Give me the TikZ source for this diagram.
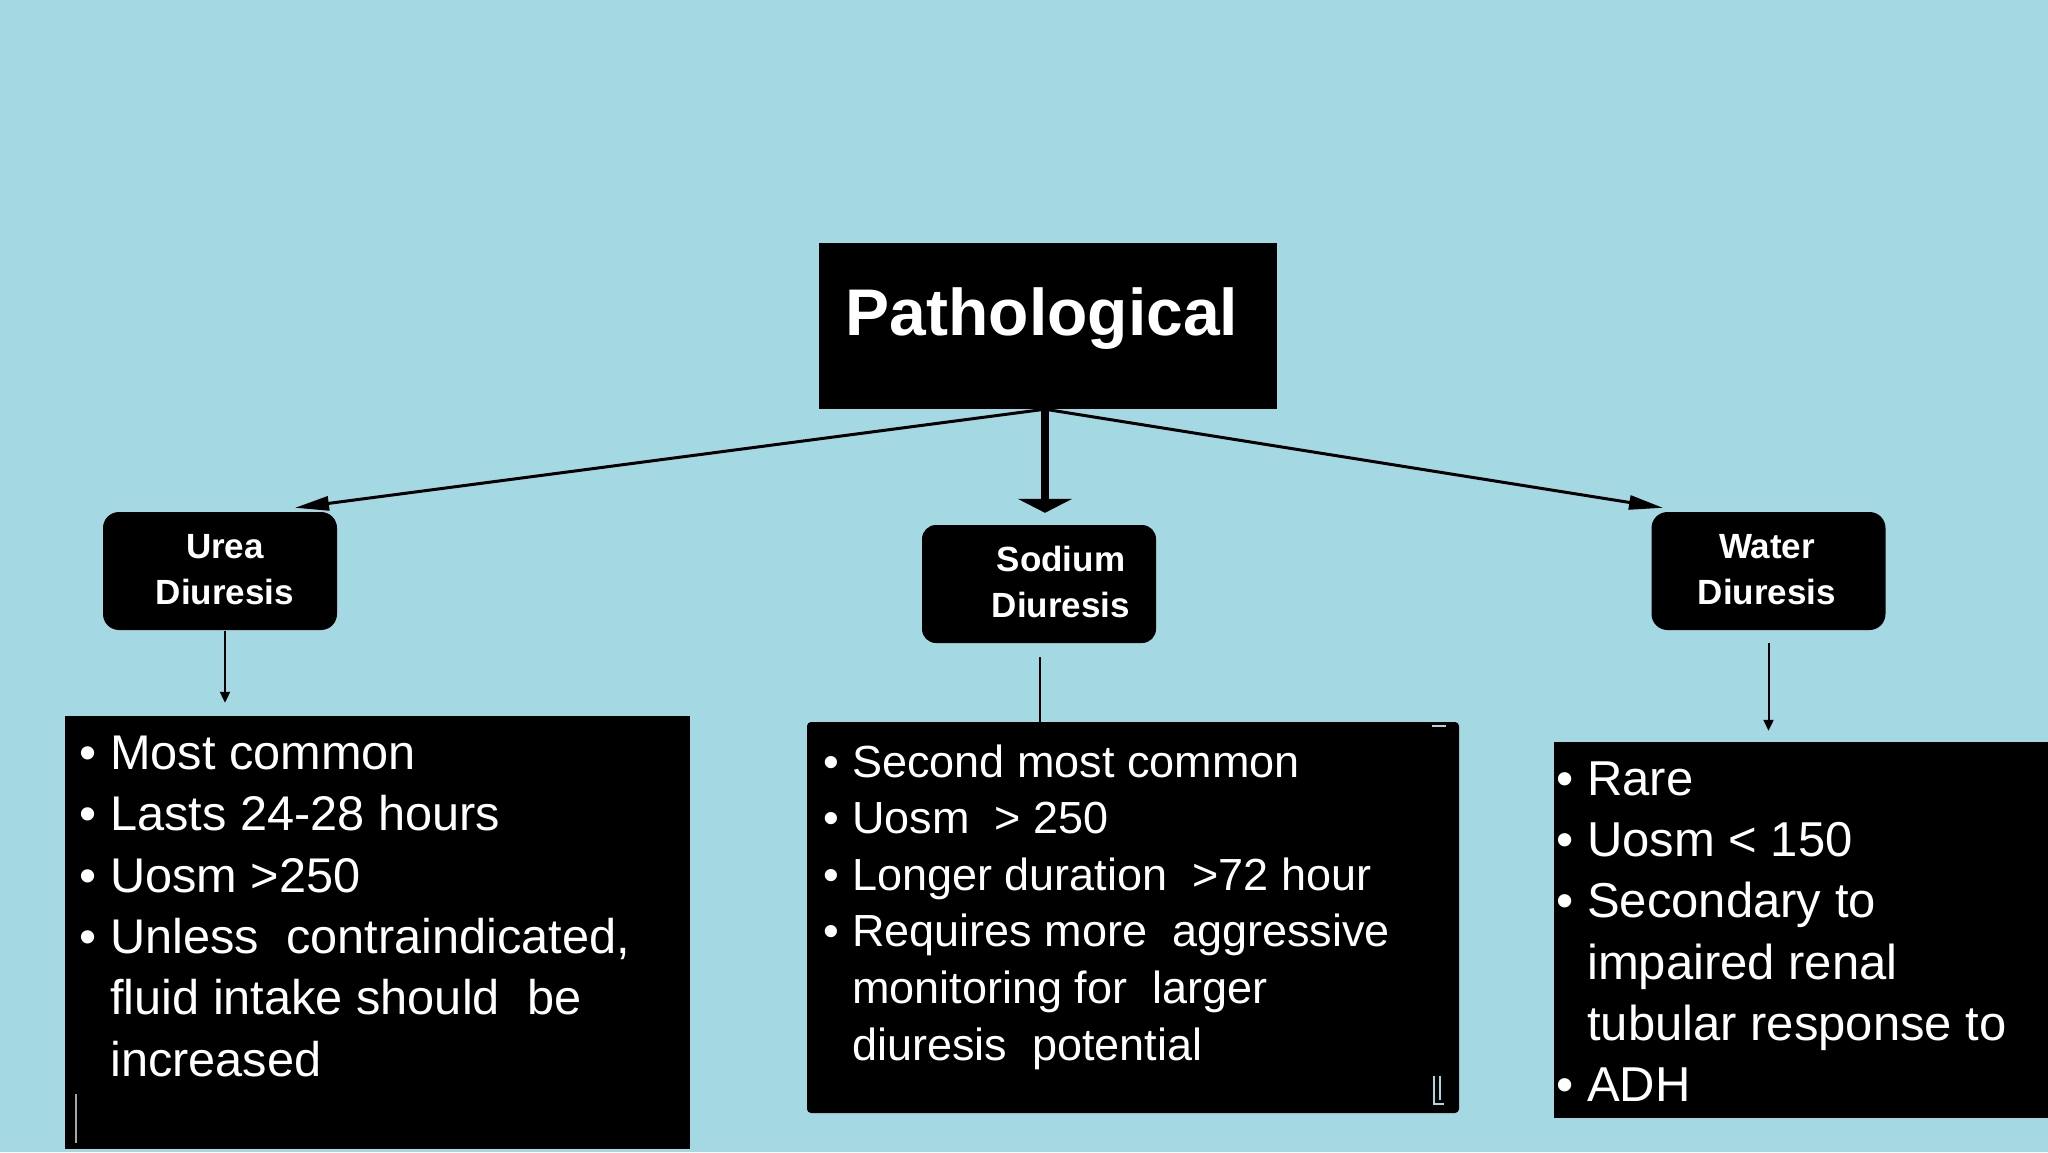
\documentclass[tikz,border=0pt]{standalone}
\usepackage{fontspec}
\setmainfont{Liberation Sans}
\usetikzlibrary{arrows.meta,calc}
\definecolor{bgblue}{RGB}{164,217,228}
\newcommand{\bul}[1]{\makebox[#1][l]{•}}
\begin{document}
\begin{tikzpicture}[x=1pt,y=-1pt,
  hdrbox/.style={fill=black, rounded corners=16pt, inner sep=0pt, minimum width=234pt, minimum height=118pt},
  htxt/.style={text=white, inner sep=0pt, align=center, font=\fontsize{35pt}{46pt}\selectfont\bfseries},
  listbox/.style={fill=black, inner sep=0pt},
  ltxt/.style={text=white, inner sep=0pt, align=left, anchor=base west},
  conn/.style={line width=3pt, -{Triangle[length=34pt,width=14pt]}},
  small/.style={line width=2pt, -{Triangle[length=11pt,width=10pt]}},
  plain/.style={line width=2pt}
]
\useasboundingbox[fill=bgblue] (0,0) rectangle (2048,1152);

% top box
\node[fill=black, inner sep=0pt, minimum width=458pt, minimum height=166pt] (path) at (1048,326) {};
\node[text=white, inner sep=0pt, anchor=base, font=\fontsize{66pt}{70pt}\selectfont\bfseries] (pathT) at (1042,335) {Pathological};
\coordinate (hub) at ($(path.south)+(-3,0)$);

% header boxes
\node[hdrbox] (urea) at (220,571) {};
\node[htxt] (ureaT) at (225,570) {Urea\\Diuresis};
\node[hdrbox, rounded corners=14pt] (sodium) at (1039,584) {};
\node[htxt] (sodiumT) at (1061,582) {Sodium\\Diuresis};
\node[hdrbox] (water) at (1768.5,571) {};
\node[htxt] (waterT) at (1767,570) {Water\\Diuresis};

% list boxes
\node[listbox, minimum width=625pt, minimum height=433pt] (ureaL) at (377.5,932.5) {};
\fill[black] (680,716) rectangle (690,1149);
\draw[gray!70, line width=1.5pt] (76,1094) -- (76,1143);
\node[listbox, rounded corners=4pt, minimum width=652pt, minimum height=391pt] (sodiumL) at (1133,917.5) {};
\draw[bgblue, line width=2pt] (1432,726) -- (1446,726);
\draw[bgblue, line width=1.5pt] (1434,1076) -- (1434,1104) -- (1444,1104) (1440,1076) -- (1440,1100);
\node[listbox, minimum width=494pt, minimum height=376pt] (waterL) at (1801,930) {};

% list texts (base anchor = baseline of the last line)
\node[ltxt, font=\fontsize{48.7pt}{61.3pt}\selectfont] (ureaTxt) at (79,1076) {%
\bul{31pt}Most common\\
\bul{31pt}Lasts 24-28 hours\\
\bul{31pt}Uosm >250\\
\bul{31pt}Unless\ \ contraindicated,\\
\hspace*{31pt}fluid intake should\ \ be\\
\hspace*{31pt}increased};

\node[ltxt, font=\fontsize{45pt}{56.6pt}\selectfont] (sodiumTxt) at (823,1060) {%
\bul{29pt}Second most common\\
\bul{29pt}Uosm\ \ > 250\\
\bul{29pt}Longer duration\ \ >72 hour\\
\bul{29pt}Requires more\ \ aggressive\\
\hspace*{29pt}monitoring for\ \ larger\\
\hspace*{29pt}diuresis\ \ potential};

\node[ltxt, font=\fontsize{49pt}{61.2pt}\selectfont] (waterTxt) at (1556,1101.5) {%
\bul{31pt}Rare\\
\bul{31pt}Uosm < 150\\
\bul{31pt}Secondary to\\
\hspace*{31pt}impaired renal\\
\hspace*{31pt}tubular response to\\
\bul{31pt}ADH};

% connectors
\draw[line width=8pt, -{Triangle[length=14pt,width=54pt]}, shorten >=12pt] (hub) -- (hub |- sodium.north);
\draw[conn] (hub) -- ([xshift=75pt,yshift=4pt]urea.north);
\draw[conn] (hub) -- ([xshift=-105.5pt,yshift=4pt]water.north);
\draw[small] ($(urea.south)+(5,1)$) -- ($(urea.south |- ureaL.north)+(5,-13)$);
\draw[small] ($(water.south)+(0,13)$) -- ($(water.south |- waterL.north)+(0,-11)$);
\draw[plain] ($(sodium.south)+(1,14)$) -- ($(sodium.south |- sodiumL.north)+(1,0)$);
\end{tikzpicture}
\end{document}
